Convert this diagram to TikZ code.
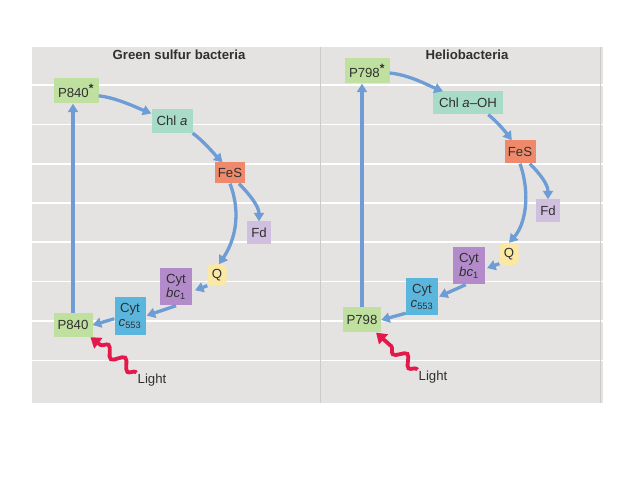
\documentclass[tikz,border=0pt]{standalone}
\usepackage{fontspec}
\setmainfont{Liberation Sans}
\usetikzlibrary{arrows.meta,decorations.pathmorphing}
\definecolor{panelbg}{HTML}{E5E2E2}
\definecolor{divider}{HTML}{CFCACA}
\definecolor{pgreen}{HTML}{C0E0A0}
\definecolor{pchl}{HTML}{A8DCC9}
\definecolor{pfes}{HTML}{EE8A6B}
\definecolor{pfd}{HTML}{D1BFE0}
\definecolor{pq}{HTML}{FBE8A4}
\definecolor{pbc}{HTML}{B48BCA}
\definecolor{pcyt}{HTML}{5BB6DE}
\definecolor{arrowblue}{HTML}{6E9CD4}
\definecolor{lightred}{HTML}{E2194A}
\definecolor{txt}{HTML}{303030}
\tikzset{
  lab/.style={font=\fontsize{13.2}{13.5}\selectfont, text=txt},
  box/.style={lab, rectangle, inner sep=1pt, align=center},
  ttl/.style={font=\bfseries\fontsize{13.2}{14}\selectfont, text=txt},
  arr/.style={draw=arrowblue, line width=3.3pt, -{Triangle[length=8.5pt,width=10pt]}},
  wavy/.style={draw=lightred, line width=3.8pt, -{Triangle[length=10pt,width=13pt]},
    decorate, decoration={snake, amplitude=5pt, segment length=21pt, pre length=1pt, post length=10pt}},
  gridline/.style={draw=white, line width=1.8pt}
}
\newcommand{\astsup}{\textsuperscript{\bfseries\large *}}
\begin{document}
\begin{tikzpicture}[x=1pt,y=-1pt]
\useasboundingbox (0,0) rectangle (638,478);
\fill[white] (0,0) rectangle (638,478);
% panel
\fill[panelbg] (32,47) rectangle (603,403);
\foreach \yy in {85,124.5,164,203,242,281.5,321,360.5}
  \draw[gridline] (32,\yy) -- (603,\yy);
\draw[divider, line width=0.8pt] (320,47) -- (320,403);
\draw[divider, line width=0.6pt] (600,47) -- (600,403);

% ===== Left panel =====
\node[ttl] (t1) at (179,55) {Green sulfur bacteria};
\node[box, fill=pgreen, minimum width=45, minimum height=25] (p1s) at (76,91) {P840\astsup};
\node[box, fill=pchl, minimum width=41, minimum height=24] (chl1) at (172,121) {Chl \textit{a}};
\node[box, fill=pfes, minimum width=30, minimum height=21] (fes1) at (230,173) {FeS};
\node[box, fill=pfd, minimum width=24, minimum height=23] (fd1) at (259,233) {Fd};
\node[box, fill=pq, rounded corners=4pt, minimum width=19, minimum height=21] (q1) at (217,275) {Q};
\node[box, fill=pbc, minimum width=32, minimum height=37] (bc1) at (176,287) {Cyt\\\textit{bc}\textsubscript{1}};
\node[box, fill=pcyt, minimum width=31, minimum height=38] (cy1) at (130,316) {Cyt\\\textit{c}\textsubscript{553}};
\node[box, fill=pgreen, minimum width=39, minimum height=24] (p1) at (73,325) {P840};
\node[lab, inner sep=1pt] (l1) at (152,380) {Light};

\draw[arr] (p1s.-12) .. controls +(18,2) and +(-15,-6) .. (chl1.160);
\draw[arr] (chl1.south east) .. controls +(10,7) and +(-8,-8) .. (fes1.125);
\draw[arr] (fes1.-50) .. controls +(10,10) and +(0,-15) .. (fd1.north);
\draw[arr] (fes1.south) .. controls (242,215) and (234,242) .. (q1.80);
\draw[arr, shorten >=3pt] (q1.south west) -- (bc1.-15);
\draw[arr, shorten >=1pt] (bc1.south) -- (cy1.east);
\draw[arr] (cy1.-170) -- (p1.east);
\draw[arr] (p1.north) -- (p1.north |- p1s.south);
\draw[wavy] (l1.north west) -- (p1.-35);

% ===== Right panel =====
\node[ttl] (t2) at (467,55) {Heliobacteria};
\node[box, fill=pgreen, minimum width=45, minimum height=25] (p2s) at (367,71) {P798\astsup};
\node[box, fill=pchl, minimum width=70, minimum height=23] (chl2) at (468,103) {Chl \textit{a}–OH};
\node[box, fill=pfes, minimum width=31, minimum height=23] (fes2) at (520,152) {FeS};
\node[box, fill=pfd, minimum width=24, minimum height=23] (fd2) at (548,211) {Fd};
\node[box, fill=pq, rounded corners=4pt, minimum width=19, minimum height=22] (q2) at (509,254) {Q};
\node[box, fill=pbc, minimum width=32, minimum height=37] (bc2) at (469,266) {Cyt\\\textit{bc}\textsubscript{1}};
\node[box, fill=pcyt, minimum width=32, minimum height=37] (cy2) at (422,297) {Cyt\\\textit{c}\textsubscript{553}};
\node[box, fill=pgreen, minimum width=38, minimum height=25] (p2) at (362,320) {P798};
\node[lab, inner sep=1pt] (l2) at (433,377) {Light};

\draw[arr] (p2s.-5) .. controls +(20,2) and +(-15,-6) .. (chl2.155);
\draw[arr] (chl2.-30) .. controls +(9,7) and +(-6,-8) .. (fes2.125);
\draw[arr] (fes2.-50) .. controls +(10,10) and +(0,-15) .. (fd2.north);
\draw[arr] (fes2.south) .. controls (531,195) and (525,225) .. (q2.north);
\draw[arr, shorten >=2pt] (q2.-135) -- (bc2.-10);
\draw[arr, shorten >=1pt] (bc2.-100) -- (cy2.east);
\draw[arr] (cy2.-135) -- (p2.east);
\draw[arr] (p2.north) -- (p2.north |- p2s.south);
\draw[wavy] (l2.north west) -- (p2.-42);
\end{tikzpicture}
\end{document}
